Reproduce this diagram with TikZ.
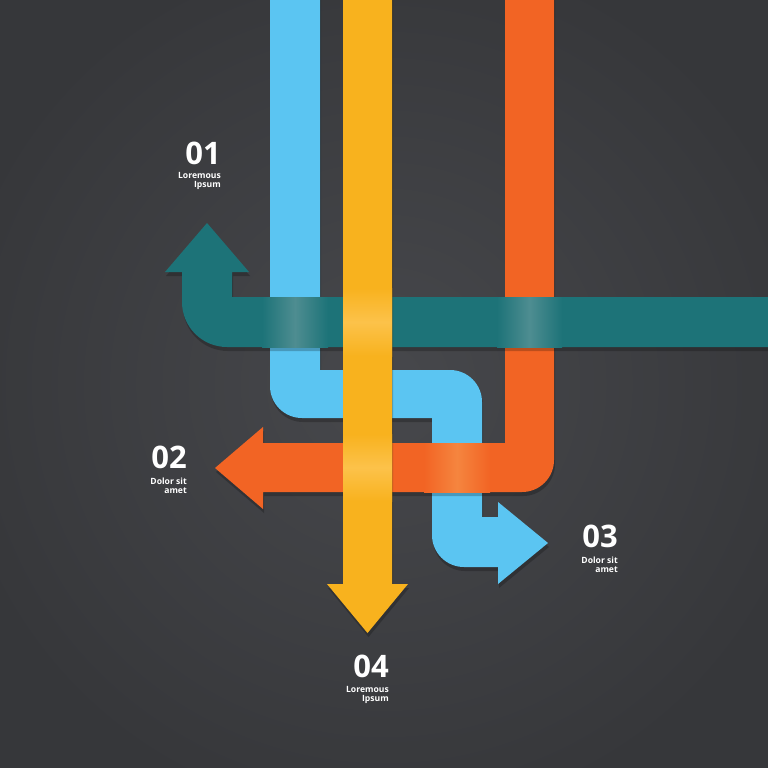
\documentclass[tikz,border=0pt]{standalone}
\usepackage{fontspec}
\setmainfont{Open Sans}
\definecolor{bgin}{HTML}{47484C}
\definecolor{bgout}{HTML}{36373A}
\definecolor{mteal}{HTML}{1D7378}
\definecolor{mteallt}{HTML}{4E8D91}
\definecolor{mblue}{HTML}{5BC5F2}
\definecolor{myellow}{HTML}{F8B21E}
\definecolor{myellowlt}{HTML}{FCC24A}
\definecolor{morange}{HTML}{F26424}
\definecolor{morangelt}{HTML}{F5853F}
\def\bluepath{(270,-5) -- (270,386) .. controls (270,403.7) and (284.3,418) .. (302,418) -- (432,418) -- (432,535) .. controls (432,552.7) and (446.3,567) .. (464,567) -- (498,567) -- (498,584) -- (548,543) -- (498,502) -- (498,517) -- (482,517) -- (482,402) .. controls (482,384.3) and (467.7,370) .. (450,370) -- (320,370) -- (320,-5) -- cycle}
\def\orangepath{(505,-5) -- (505,443) -- (263,443) -- (263,427) -- (215,468) -- (263,509) -- (263,492) -- (522,492) .. controls (539.7,492) and (554,477.7) .. (554,460) -- (554,-5) -- cycle}
\def\tealpath{(772,297) -- (232,297) -- (232,272) -- (249,272) -- (207,223) -- (165,272) -- (182,272) -- (182,302) .. controls (182,326.9) and (202.1,347) .. (227,347) -- (772,347) -- cycle}
\def\yellowpath{(343,-5) -- (343,584) -- (327,584) -- (367.5,633) -- (408,584) -- (392,584) -- (392,-5) -- cycle}
\begin{document}
\begin{tikzpicture}[x=1pt,y=-1pt,
  shad/.style={fill=black,opacity=0.22,shift={(1,4)}},
  num/.style={anchor=base east,inner sep=0pt,text=white,text depth=0pt,font=\bfseries\fontsize{31}{31}\selectfont},
  lab/.style={anchor=base east,inner sep=0pt,text=white,text height=6.2pt,text depth=0pt,font=\bfseries\fontsize{8.6}{9}\selectfont}]
\useasboundingbox (0,0) rectangle (768,768);
\shade[inner color=bgin, outer color=bgout] (-60,-60) rectangle (828,828);
% blue ribbon
\fill[shad] \bluepath;
\fill[mblue] \bluepath;
% orange ribbon
\fill[shad] \orangepath;
\fill[morange] \orangepath;
\shade[left color=morange, right color=morange, middle color=morangelt] (424,443) rectangle (490,492);
% teal ribbon
\fill[shad] \tealpath;
\fill[mteal] \tealpath;
\shade[left color=mteal, right color=mteal, middle color=mteallt] (262,297) rectangle (328,347);
\shade[left color=mteal, right color=mteal, middle color=mteallt] (497,297) rectangle (562,347);
% yellow ribbon
\fill[shad] \yellowpath;
\fill[myellow] \yellowpath;
\shade[top color=myellow, bottom color=myellow, middle color=myellowlt] (343,288) rectangle (392,356);
\shade[top color=myellow, bottom color=myellow, middle color=myellowlt] (343,434) rectangle (392,501);
% labels
\node[num] (n1) at (221,164) {01};
\node[lab] (l1a) at (221,178) {Loremous};
\node[lab] (l1b) at (221,187) {Ipsum};
\node[num] (n2) at (187,468) {02};
\node[lab] (l2a) at (187,484) {Dolor sit};
\node[lab] (l2b) at (187,493) {amet};
\node[num] (n3) at (618,547) {03};
\node[lab] (l3a) at (618,563) {Dolor sit};
\node[lab] (l3b) at (618,572) {amet};
\node[num] (n4) at (389,677) {04};
\node[lab] (l4a) at (389,692) {Loremous};
\node[lab] (l4b) at (389,701) {Ipsum};
\end{tikzpicture}
\end{document}
